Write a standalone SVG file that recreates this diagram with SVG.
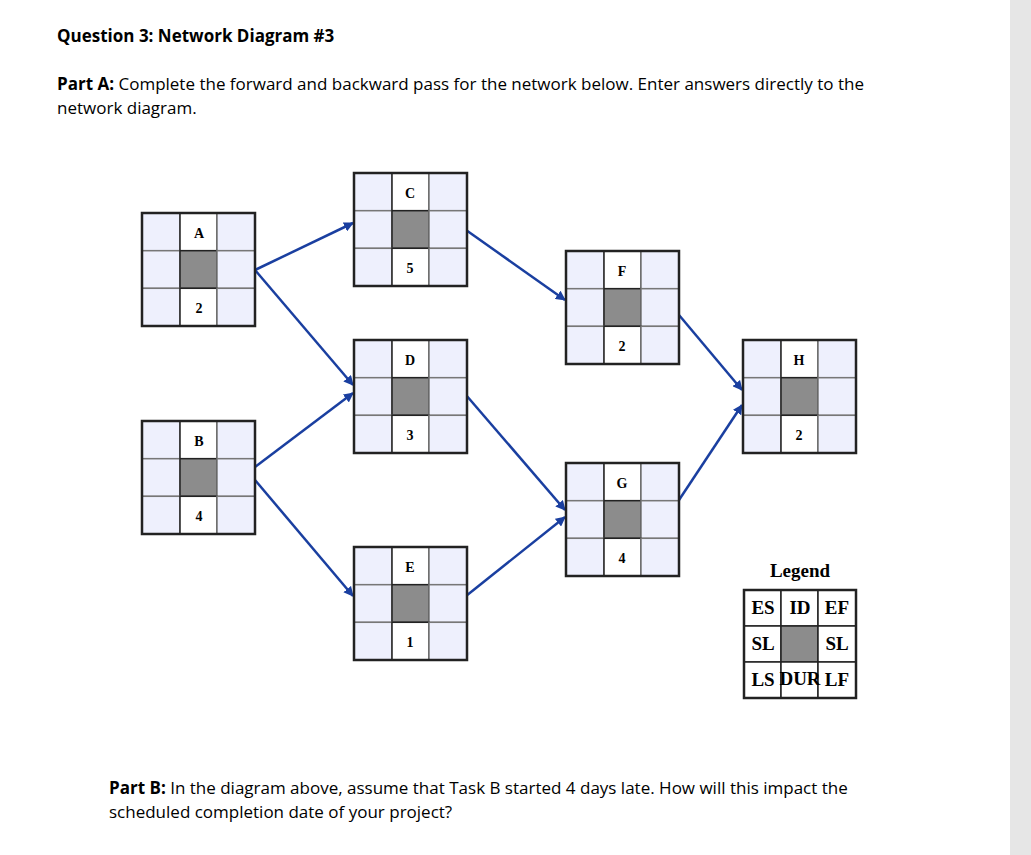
<svg xmlns="http://www.w3.org/2000/svg" width="1031" height="855" viewBox="0 0 1031 855">
<defs>
<style>
.hd{font-family:"Open Sans","Liberation Sans",sans-serif;font-size:17px;fill:#000}
.c{fill:#eef0fd;stroke:#777;stroke-width:1.5}
.w{fill:#fff;stroke:#222;stroke-width:1.5}
.g{fill:#8c8c8c;stroke:#222;stroke-width:1.5}
.o{fill:none;stroke:#222;stroke-width:2.5}
.t{font-family:"Liberation Serif",serif;font-weight:bold;font-size:14px;text-anchor:middle}
.lt{font-family:"Liberation Serif",serif;font-weight:bold;font-size:19px;text-anchor:middle}
.cn path{fill:none;stroke:#1a3fa0;stroke-width:2.5;marker-end:url(#ah)}
</style>
<marker id="ah" viewBox="0 0 10 10" refX="9" refY="5" markerWidth="4" markerHeight="4" orient="auto"><path d="M0,0L10,5L0,10z" fill="#1a3fa0"/></marker>
<g id="nd">
<rect class="c" x="0" y="0" width="38" height="37.7"/><rect class="w" x="38" y="0" width="37" height="37.7"/><rect class="c" x="75" y="0" width="38" height="37.7"/>
<rect class="c" x="0" y="37.7" width="38" height="37.7"/><rect class="g" x="38" y="37.7" width="37" height="37.7"/><rect class="c" x="75" y="37.7" width="38" height="37.7"/>
<rect class="c" x="0" y="75.3" width="38" height="37.7"/><rect class="w" x="38" y="75.3" width="37" height="37.7"/><rect class="c" x="75" y="75.3" width="38" height="37.7"/>
<rect class="o" x="0" y="0" width="113" height="113"/>
</g>
</defs>
<rect x="1010" y="0" width="21" height="855" fill="#e6e6e6"/>
<text class="hd" x="57" y="42" font-weight="bold" font-size="16">Question 3: Network Diagram #3</text>
<text class="hd" x="57" y="90"><tspan font-weight="bold">Part A:</tspan> Complete the forward and backward pass for the network below. Enter answers directly to the</text>
<text class="hd" x="57" y="114">network diagram.</text>
<g class="cn" id="connectors">
<path d="M255,270L353,223"/>
<path d="M255,270L353,385"/>
<path d="M255,467L353,393"/>
<path d="M255,480L353,596"/>
<path d="M466,230L565,300"/>
<path d="M466,395L565,510"/>
<path d="M466,596L565,517"/>
<path d="M679,315L742,390"/>
<path d="M679,500L742,405"/>
</g>
<g id="A"><use href="#nd" x="142" y="213"/><text class="t" x="199" y="238">A</text><text class="t" x="199" y="313">2</text></g>
<g id="B"><use href="#nd" x="142" y="421"/><text class="t" x="199" y="446">B</text><text class="t" x="199" y="521">4</text></g>
<g id="C"><use href="#nd" x="354" y="173"/><text class="t" x="410" y="198">C</text><text class="t" x="410" y="273">5</text></g>
<g id="D"><use href="#nd" x="354" y="340"/><text class="t" x="410" y="365">D</text><text class="t" x="410" y="440">3</text></g>
<g id="E"><use href="#nd" x="354" y="547"/><text class="t" x="410" y="572">E</text><text class="t" x="410" y="647">1</text></g>
<g id="F"><use href="#nd" x="566" y="251"/><text class="t" x="622" y="276">F</text><text class="t" x="622" y="351">2</text></g>
<g id="G"><use href="#nd" x="566" y="463"/><text class="t" x="622" y="488">G</text><text class="t" x="622" y="563">4</text></g>
<g id="H"><use href="#nd" x="743" y="340"/><text class="t" x="799" y="365">H</text><text class="t" x="799" y="440">2</text></g>
<g id="legend">
<text class="lt" x="800" y="577">Legend</text>
<rect class="w" x="744" y="590" width="37" height="36"/><rect class="w" x="781" y="590" width="37" height="36"/><rect class="w" x="818" y="590" width="38" height="36"/>
<rect class="w" x="744" y="626" width="37" height="36"/><rect class="g" x="781" y="626" width="37" height="36"/><rect class="w" x="818" y="626" width="38" height="36"/>
<rect class="w" x="744" y="662" width="37" height="36"/><rect class="w" x="781" y="662" width="37" height="36"/><rect class="w" x="818" y="662" width="38" height="36"/>
<rect class="o" x="744" y="590" width="112" height="108"/>
<text class="lt" x="763" y="614">ES</text><text class="lt" x="800" y="614">ID</text><text class="lt" x="837" y="614">EF</text>
<text class="lt" x="763" y="650">SL</text><text class="lt" x="837" y="650">SL</text>
<text class="lt" x="763" y="686">LS</text><text class="lt" x="800" y="685" font-size="11">DUR</text><text class="lt" x="837" y="686">LF</text>
</g>
<text class="hd" x="109" y="794"><tspan font-weight="bold">Part B:</tspan> In the diagram above, assume that Task B started 4 days late. How will this impact the</text>
<text class="hd" x="109" y="818">scheduled completion date of your project?</text>
</svg>
